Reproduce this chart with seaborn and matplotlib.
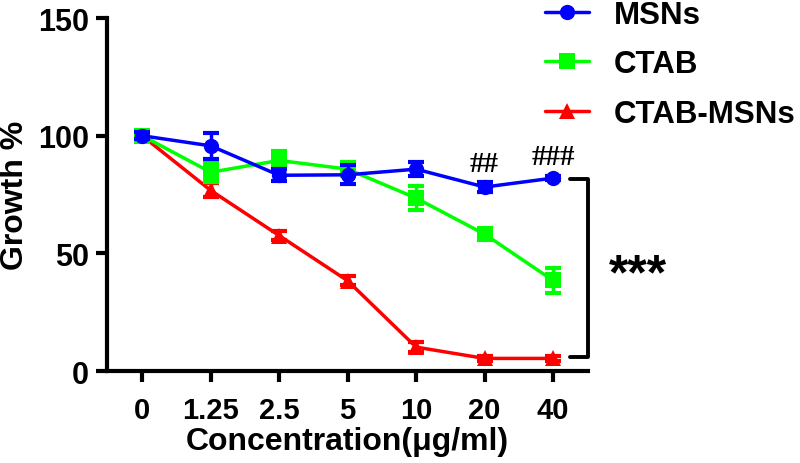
import numpy as np
import pandas as pd
import seaborn as sns
import matplotlib.pyplot as plt

# data
concentrations = ["0", "1.25", "2.5", "5", "10", "20", "40"]
msns = [100, 95.7, 83.2, 83.4, 85.8, 78.2, 82.0]
msns_err = [1.5, 5.5, 2.5, 4.0, 3.0, 2.0, 1.0]
ctab = [100, 84.5, 89.5, 85.8, 73.5, 58.2, 38.5]
ctab_err = [1.5, 4.0, 4.0, 3.0, 5.0, 2.0, 5.5]
ctab_msns = [100, 76.8, 57.6, 38.4, 10.2, 5.4, 5.4]
ctab_msns_err = [1.0, 3.0, 2.0, 2.0, 2.0, 1.0, 1.0]

series = ["MSNs", "CTAB", "CTAB-MSNs"]
colors = {"MSNs": "#0000ff", "CTAB": "#00ff00", "CTAB-MSNs": "#ff0000"}
marks = {"MSNs": "o", "CTAB": "s", "CTAB-MSNs": "^"}

rows = []
for name, vals, errs in zip(series, [msns, ctab, ctab_msns], [msns_err, ctab_err, ctab_msns_err]):
    for i, (v, e) in enumerate(zip(vals, errs)):
        rows.append({"pos": i, "growth": v, "err": e, "group": name})
df = pd.DataFrame(rows)

sns.set_style("ticks")
plt.rcParams['font.family'] = ['Liberation Sans', 'DejaVu Sans']
plt.rcParams['font.weight'] = 'bold'
plt.rcParams['text.color'] = 'black'
plt.rcParams['axes.labelcolor'] = 'black'
plt.rcParams['xtick.color'] = 'black'
plt.rcParams['ytick.color'] = 'black'
plt.rcParams['axes.edgecolor'] = 'black'

fig = plt.figure(figsize=(8, 4.64), dpi=100)
ax = fig.add_axes([0.134, 0.198, 0.601, 0.761])

# draw the last series first so MSNs sits on top
for k, name in enumerate(reversed(series)):
    sub = df[df.group == name]
    sns.lineplot(data=sub, x="pos", y="growth", color=colors[name], marker=marks[name],
                 markersize=11, markeredgewidth=0, linewidth=2.5, label=name,
                 zorder=3 + 2 * k, ax=ax)
    ax.errorbar(sub.pos, sub.growth, yerr=sub.err, fmt="none", ecolor=colors[name],
                elinewidth=2.5, capsize=5.5, capthick=3, zorder=4 + 2 * k)

ax.set_xlim(-0.51, 6.51)
ax.set_ylim(0, 150)
ax.set_yticks([0, 50, 100, 150])
ax.set_xticks(range(len(concentrations)))
ax.set_xticklabels(concentrations)
ax.tick_params(axis="y", labelsize=22, width=3, length=8, pad=5)
ax.tick_params(axis="x", labelsize=21, width=3, length=8, pad=10)
for lab in ax.get_xticklabels() + ax.get_yticklabels():
    lab.set_fontweight("bold")
ax.set_xlabel("Concentration(\u03bcg/ml)", fontsize=23, fontweight="bold", labelpad=1)
ax.set_ylabel("Growth %", fontsize=23, fontweight="bold", labelpad=6)
sns.despine(ax=ax)
ax.spines["left"].set_linewidth(3)
ax.spines["bottom"].set_linewidth(3)

# significance marks
ax.plot([6.25, 6.51, 6.51, 6.25], [81.6, 81.6, 6.1, 6.1], color="black", lw=2.8,
        clip_on=False, zorder=10)
ax.text(7.24, 40.5, "***", fontsize=36, fontweight="bold", ha="center", va="center",
        clip_on=False)
ax.text(5, 88, "##", fontsize=21, fontweight="bold", family="Liberation Serif",
        ha="center", va="center")
ax.text(6, 91, "###", fontsize=21, fontweight="bold", family="Liberation Serif",
        ha="center", va="center")

handles, labels = ax.get_legend_handles_labels()
order = [labels.index(s) for s in series]
ax.legend([handles[i] for i in order], series, loc="upper left",
          bbox_to_anchor=(545 / 800, 0.998), bbox_transform=fig.transFigure,
          frameon=False, handlelength=1.4, handletextpad=0.8, labelspacing=0.62,
          borderpad=0, borderaxespad=0, prop={"weight": "bold", "size": 22.5})

fig.savefig("out.png", dpi=100)
